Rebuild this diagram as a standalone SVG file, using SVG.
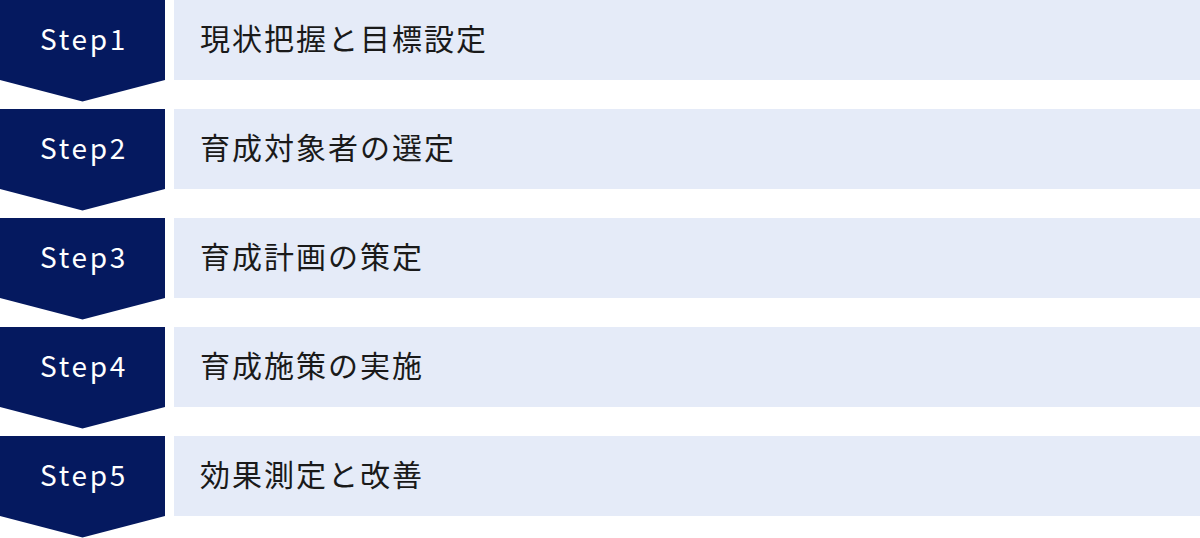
<svg xmlns="http://www.w3.org/2000/svg" width="1200" height="538" viewBox="0 0 1200 538">
<style>
.chev{fill:#05195f}
.bar{fill:#e5ebf8}
.step{font-family:"Noto Sans CJK JP","Noto Sans",sans-serif;font-size:28px;font-weight:400;fill:#ffffff;letter-spacing:2.7px;text-anchor:middle}
.lbl{font-family:"Noto Sans CJK JP",sans-serif;font-size:30px;font-weight:400;fill:#1a1a1a;letter-spacing:2px}
</style>
<defs>
<path id="chevShape" d="M0 0H165V80L82.5 101.5L0 80Z"/>
</defs>
<g id="step1" transform="translate(0,0)">
<use href="#chevShape" class="chev"/>
<rect class="bar" x="174" y="0" width="1026" height="80"/>
<text class="step" x="84" y="49.5">Step1</text>
<text class="lbl" x="200" y="50">現状把握と目標設定</text>
</g>
<g id="step2" transform="translate(0,109)">
<use href="#chevShape" class="chev"/>
<rect class="bar" x="174" y="0" width="1026" height="80"/>
<text class="step" x="84" y="49.5">Step2</text>
<text class="lbl" x="200" y="50">育成対象者の選定</text>
</g>
<g id="step3" transform="translate(0,218)">
<use href="#chevShape" class="chev"/>
<rect class="bar" x="174" y="0" width="1026" height="80"/>
<text class="step" x="84" y="49.5">Step3</text>
<text class="lbl" x="200" y="50">育成計画の策定</text>
</g>
<g id="step4" transform="translate(0,327)">
<use href="#chevShape" class="chev"/>
<rect class="bar" x="174" y="0" width="1026" height="80"/>
<text class="step" x="84" y="49.5">Step4</text>
<text class="lbl" x="200" y="50">育成施策の実施</text>
</g>
<g id="step5" transform="translate(0,436)">
<use href="#chevShape" class="chev"/>
<rect class="bar" x="174" y="0" width="1026" height="80"/>
<text class="step" x="84" y="49.5">Step5</text>
<text class="lbl" x="200" y="50">効果測定と改善</text>
</g>
<g id="connectors"></g>
</svg>
